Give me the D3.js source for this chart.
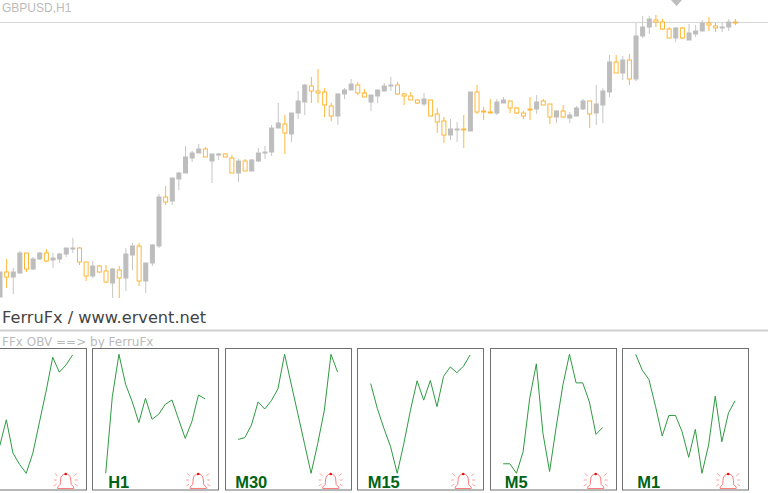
<!DOCTYPE html>
<html>
<head>
<meta charset="utf-8">
<script src="https://cdn.jsdelivr.net/npm/d3@7"></script>
<style>
body { margin: 0; background: #fff; overflow: hidden; }
#container svg { display: block; }
</style>
</head>
<body>
<div id="container"></div>
<script>
// candles, in points above the lowest level of the window
const opens = [3,28,23,27,47,31,41,47,40,41,46,51,52,38,24,34,29,17,30,22,45,54,19,37,54,103,99,121,127,142,147,151,139,145,146,142,127,139,129,139,147,148,172,176,166,187,198,214,209,208,194,184,206,210,215,207,198,204,209,214,215,206,204,200,196,200,186,179,165,170,171,169,208,189,188,187,197,199,192,187,191,191,199,196,183,189,182,184,191,199,187,195,208,238,227,240,221,264,273,280,278,271,262,272,260,266,269,277,274,272,273,278];
const highs = [28,41,32,49,47,43,48,51,47,47,52,62,53,38,39,35,35,32,34,52,57,57,37,56,106,114,122,128,154,149,156,153,146,147,147,145,141,141,141,152,154,175,197,185,187,209,216,223,231,212,197,207,212,221,218,211,205,210,217,223,218,207,208,201,207,200,192,183,181,178,185,208,215,193,201,201,203,199,193,189,203,205,201,196,190,195,188,194,201,199,215,212,245,245,244,246,277,284,284,285,281,273,273,273,276,275,280,283,277,277,281,281];
const lows = [3,12,6,26,28,30,40,38,32,37,43,47,35,19,22,27,17,2,2,9,30,14,7,34,52,95,95,110,127,138,147,143,117,140,143,127,118,129,129,138,141,144,172,146,158,181,185,197,197,183,179,175,201,210,205,203,189,197,209,209,205,195,200,196,194,184,167,157,160,158,152,169,186,180,187,185,197,187,186,181,180,186,195,176,177,182,177,184,190,172,175,177,203,227,220,215,219,262,266,273,270,262,258,261,260,263,269,269,268,268,269,275];
const closes = [28,23,28,47,31,41,47,39,42,46,52,52,38,24,34,28,18,31,22,46,54,19,37,55,103,98,122,127,143,147,151,143,146,146,143,127,139,129,140,147,148,172,177,167,187,199,215,209,207,195,184,206,210,216,207,203,205,210,214,215,206,204,200,197,201,184,178,165,171,171,170,208,188,188,187,198,200,192,187,184,190,198,195,183,189,183,185,192,199,186,196,209,238,227,240,221,264,273,281,278,271,262,272,262,267,269,277,275,272,273,278,277];

// oscillator panels, 0 to 100
const panelLabels = ["", "H1", "M30", "M15", "M5", "M1"];
const obvH4 = [null,null,null,null,23,45,17,7.5,0,17,43,69,97.5,85,91,99.5];
const obvH1 = [0,64.4,100,74.8,60.2,42.6,63,45.4,49.6,58,61.6,45.4,29.4,43.4,65.8,62.5];
const obvM30 = [28.5,30,40.5,60,54,61,71,100,75,50,25,0,25,53,100,85];
const obvM15 = [75.4,54.5,37.7,22.3,0,25,53,77.7,61.5,78,56,81.5,89.4,84.6,90,99.4];
const obvM5 = [8,8,0,18,63,92,33.5,1.5,39,74,100,76,76,60,32.7,38.5];
const obvM1 = [100,86.6,78.8,56,31.3,48.6,48.6,35,13.4,36.9,0,23.7,64.8,26.5,50.8,61];
const panelSeries = [obvH4, obvH1, obvM30, obvM15, obvM5, obvM1];

const width = 768, height = 493;
const bullColor = "#bdbdbd", bearColor = "#ffb638", lineColor = "#2f9a43";

const svg = d3.select("#container")
    .append("svg")
    .attr("width", width)
    .attr("height", height)
    .style("font-family", "'DejaVu Sans', sans-serif");

// main window
const x = d3.scaleLinear().domain([0, 111]).range([0, 735.4]);
const y = d3.scaleLinear().domain([0, 300]).range([300, 0]);

svg.append("line")
    .attr("x1", 0).attr("x2", width)
    .attr("y1", 22.5).attr("y2", 22.5)
    .attr("stroke", "#d6d6d6");

svg.append("path")
    .attr("d", "M671,0L682,0L676.5,6Z")
    .attr("fill", "#bdbdbd");

const candles = svg.selectAll(".candle")
    .data(opens.map((o, i) => i))
    .enter()
    .append("g")
    .classed("candle", true);

candles.append("line")
    .attr("x1", i => x(i)).attr("x2", i => x(i))
    .attr("y1", i => y(highs[i])).attr("y2", i => y(lows[i]))
    .attr("stroke", i => closes[i] >= opens[i] ? "#c6c6c6" : bearColor)
    .attr("stroke-width", 1);

candles.append("rect")
    .attr("x", i => x(i) - 2)
    .attr("y", i => y(Math.max(opens[i], closes[i])))
    .attr("width", 4)
    .attr("height", i => Math.abs(y(opens[i]) - y(closes[i])))
    .attr("fill", i => closes[i] >= opens[i] ? bullColor : "#fff")
    .attr("stroke", i => closes[i] >= opens[i] ? bullColor : bearColor)
    .attr("stroke-width", 1);

svg.append("text")
    .attr("x", 2).attr("y", 12)
    .attr("font-size", 12)
    .attr("fill", "#bbb")
    .style("font-family", "'Liberation Sans', sans-serif")
    .text("GBPUSD,H1");

svg.append("text")
    .attr("x", 2).attr("y", 323)
    .attr("font-size", 16.2)
    .attr("fill", "#444")
    .text("FerruFx / www.ervent.net");

svg.append("rect")
    .attr("x", 0).attr("y", 329.5)
    .attr("width", width).attr("height", 2)
    .attr("fill", "#cfcfcf");

svg.append("text")
    .attr("x", 2).attr("y", 346)
    .attr("font-size", 12)
    .attr("fill", "#bbb")
    .text("FFx OBV ==> by FerruFx");

// indicator panels
const panelLeft = d3.scaleLinear().domain([0, 5]).range([-39.8, 622.7]);
const panelWidth = 126;
const py = d3.scaleLinear().domain([0, 100]).range([473.3, 354.3]);

function drawBell(g) {
    g.append("path")
        .attr("d", "M-8,7.5L8,7.5L8,6L5.5,3.5L5,-2A5,5 0 0 0 -5,-2L-5.5,3.5L-8,6Z")
        .attr("fill", "#fff")
        .attr("stroke", "#ff5a5a")
        .attr("stroke-width", 0.8);
    g.append("path")
        .attr("d", "M-8,-5L-11,-7.5M-9,-1L-12,-1M-9,3L-12,5M8,-5L11,-7.5M9,-1L12,-1M9,3L12,5")
        .attr("stroke", "#ff8a8a")
        .attr("stroke-width", 0.8);
    g.append("circle")
        .attr("cy", -7).attr("r", 1.3)
        .attr("fill", "#e01010");
}

panelSeries.forEach(function (series, p) {
    const left = panelLeft(p);
    const px = d3.scaleLinear().domain([0, 15]).range([left + 13, left + 112.4]);
    const g = svg.append("g");

    g.append("rect")
        .attr("x", Math.floor(left) + 0.5).attr("y", 348.5)
        .attr("width", panelWidth).attr("height", 141.5)
        .attr("fill", "#fff")
        .attr("stroke", "#707070")
        .attr("stroke-width", 1);

    g.append("path")
        .datum(series)
        .attr("fill", "none")
        .attr("stroke", lineColor)
        .attr("stroke-width", 1)
        .attr("d", d3.line()
            .defined(d => d !== null)
            .x((d, i) => px(i))
            .y(d => py(d)));

    g.append("text")
        .attr("x", left + 26).attr("y", 488)
        .attr("text-anchor", "middle")
        .attr("font-size", 16.5)
        .attr("font-weight", "bold")
        .attr("fill", "#006414")
        .style("font-family", "'Liberation Sans', sans-serif")
        .text(panelLabels[p]);

    drawBell(g.append("g")
        .attr("transform", `translate(${left + 105.5}, 481)`));
});
</script>
</body>
</html>
